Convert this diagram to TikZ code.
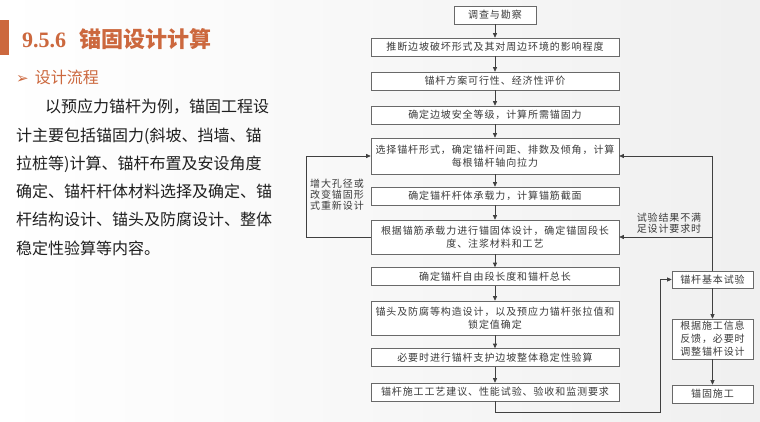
\documentclass[tikz,border=0pt]{standalone}
\usepackage{fontspec}
\setmainfont{Liberation Serif}
\newfontfamily\cjk{Noto Sans CJK SC}
\newfontfamily\cjkflow{Noto Sans CJK SC}[LetterSpace=9]
\newfontfamily\dingfont{DejaVu Sans}
\definecolor{TitleOrange}{RGB}{204,104,62}
\definecolor{FlowLine}{RGB}{64,64,64}
\definecolor{FlowText}{RGB}{58,58,58}
\definecolor{BoxGray}{RGB}{105,105,105}
\usetikzlibrary{arrows.meta,calc}

\begin{document}
\begin{tikzpicture}[x=1pt,y=-1pt,
  stepbox/.style={draw=BoxGray,fill=white,line width=0.6pt,minimum width=248pt,minimum height=18pt,
    inner sep=1pt,align=center,text=FlowText,font=\cjkflow\fontsize{10}{13}\selectfont},
  sidebox/.style={stepbox,minimum width=81pt},
  note/.style={inner sep=0pt,text=FlowText,font=\cjkflow\fontsize{10}{11}\selectfont},
  flow/.style={draw=FlowLine,line width=0.6pt,-{Triangle[length=4.5pt,width=4pt]}}]
  \useasboundingbox (0,0) rectangle (760,422);
  \shade[left color=white,right color=gray!12] (0,0) rectangle (760,422);

  \fill[TitleOrange] (0,20) rectangle (9,55);
  \node[anchor=base west,inner sep=0pt,text=TitleOrange] (title) at (22,47.5)
    {\bfseries\fontsize{22}{26}\selectfont 9.5.6\hspace{13pt}{\cjk\bfseries 锚固设计计算}};
  \node[anchor=base west,inner sep=0pt,text=TitleOrange] (sub) at (16,84)
    {{\dingfont\fontsize{15}{16}\selectfont ➢}\hspace{6pt}{\cjk\fontsize{16}{18}\selectfont 设计流程}};
  \foreach \lx/\txt [count=\i] in {45/{以预应力锚杆为例，锚固工程设},16/{计主要包括锚固力(斜坡、挡墙、锚},
      16/{拉桩等)计算、锚杆布置及安设角度},16/{确定、锚杆杆体材料选择及确定、锚},
      16/{杆结构设计、锚头及防腐设计、整体},16/{稳定性验算等内容。}} {
    \node[anchor=base west,inner sep=0pt,text=black!88,font=\cjk\fontsize{16}{18}\selectfont]
      at (\lx,113+28.2*\i-28.2) {\txt};
  }

  \node[stepbox,minimum width=82pt] (survey) at (495,15) {调查与勘察};
  \node[stepbox] (failure) at (495,47) {推断边坡破坏形式及其对周边环境的影响程度};
  \node[stepbox] (scheme) at (495,81) {锚杆方案可行性、经济性评价};
  \node[stepbox] (grade) at (495,115) {确定边坡安全等级，计算所需锚固力};
  \node[stepbox,minimum height=36pt] (select) at (495,156) {选择锚杆形式，确定锚杆间距、排数及倾角，计算\\每根锚杆轴向拉力};
  \node[stepbox] (capacity) at (495,196) {确定锚杆杆体承载力，计算锚筋截面};
  \node[stepbox,minimum height=34pt] (bond) at (495,237) {根据锚筋承载力进行锚固体设计，确定锚固段长\\度、注浆材料和工艺};
  \node[stepbox] (length) at (495,276.5) {确定锚杆自由段长度和锚杆总长};
  \node[stepbox,minimum height=34pt] (head) at (495,318) {锚头及防腐等构造设计，以及预应力锚杆张拉值和\\锁定值确定};
  \node[stepbox] (check) at (495,357.5) {必要时进行锚杆支护边坡整体稳定性验算};
  \node[stepbox] (advice) at (495,392) {锚杆施工工艺建议、性能试验、验收和监测要求};

  \node[sidebox,minimum height=17pt] (test) at (712.5,279.5) {锚杆基本试验};
  \node[sidebox,minimum height=40pt] (info) at (712.5,339) {根据施工信息\\反馈，必要时\\调整锚杆设计};
  \node[sidebox] (build) at (712.5,394) {锚固施工};

  \foreach \a/\b in {survey/failure,failure/scheme,scheme/grade,grade/select,select/capacity,
      capacity/bond,bond/length,length/head,head/check,check/advice,test/info,info/build}
    \draw[flow] (\a) -- (\b);

  \draw[flow] (test.north) |- (select.east);
  \draw[flow] (test.north) |- (bond.east);
  \draw[flow] (bond.west) -- ++(-64,0) |- (select.west);
  \coordinate (turn) at (660,412);
  \draw[flow] (advice.south) |- (turn) |- (test.west);

  \node[note,align=center,anchor=south] (fail) at (669,234) {试验结果不满\\足设计要求时};
  \node[note,align=left,anchor=north west] (redo) at (310,179) {增大孔径或\\改变锚固形\\式重新设计};
\end{tikzpicture}
\end{document}
